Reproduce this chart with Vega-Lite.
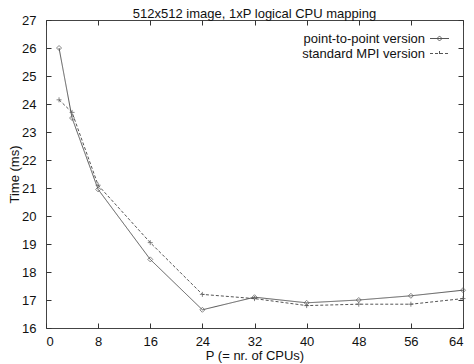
{
  "$schema": "https://vega.github.io/schema/vega-lite/v6.json",
  "autosize": "none",
  "width": 417,
  "height": 308,
  "padding": {"left": 46, "top": 20, "right": 11, "bottom": 36},
  "background": "white",
  "config": {
    "font": "Liberation Sans",
    "view": {"stroke": "#444", "strokeWidth": 1},
    "axis": {"grid": false, "domain": false, "ticks": true, "tickColor": "#333", "tickWidth": 1, "labelColor": "#111", "titleColor": "#111", "labelFontSize": 13, "titleFontSize": 13, "titleFontWeight": "normal", "tickSize": 5, "labelOverlap": false, "zindex": 1}
  },
  "title": {"text": "512x512 image, 1xP logical CPU mapping", "fontSize": 13, "fontWeight": "normal", "color": "#111", "offset": -7},
  "data": {"values": [
    {"P": 2, "series": "point-to-point version", "t": 26.0},
    {"P": 4, "series": "point-to-point version", "t": 23.5},
    {"P": 8, "series": "point-to-point version", "t": 20.95},
    {"P": 16, "series": "point-to-point version", "t": 18.45},
    {"P": 24, "series": "point-to-point version", "t": 16.65},
    {"P": 32, "series": "point-to-point version", "t": 17.1},
    {"P": 40, "series": "point-to-point version", "t": 16.9},
    {"P": 48, "series": "point-to-point version", "t": 17.0},
    {"P": 56, "series": "point-to-point version", "t": 17.15},
    {"P": 64, "series": "point-to-point version", "t": 17.35},
    {"P": 2, "series": "standard MPI version", "t": 24.15},
    {"P": 4, "series": "standard MPI version", "t": 23.7},
    {"P": 8, "series": "standard MPI version", "t": 21.1},
    {"P": 16, "series": "standard MPI version", "t": 19.05},
    {"P": 24, "series": "standard MPI version", "t": 17.2},
    {"P": 32, "series": "standard MPI version", "t": 17.05},
    {"P": 40, "series": "standard MPI version", "t": 16.8},
    {"P": 48, "series": "standard MPI version", "t": 16.85},
    {"P": 56, "series": "standard MPI version", "t": 16.85},
    {"P": 64, "series": "standard MPI version", "t": 17.05}
  ]},
  "resolve": {"axis": {"x": "independent", "y": "independent"}},
  "layer": [
    {
      "mark": {"type": "line", "color": "#555", "strokeWidth": 1},
      "encoding": {
        "x": {"field": "P", "type": "quantitative", "scale": {"domain": [0, 64], "nice": false}, "axis": {"offset": -5, "values": [0, 8, 16, 24, 32, 40, 48, 56, 64], "title": "P (= nr. of CPUs)", "labelPadding": 7, "titleY": 26}},
        "y": {"field": "t", "type": "quantitative", "scale": {"domain": [16, 27], "nice": false, "zero": false}, "axis": {"offset": -5, "values": [16, 17, 18, 19, 20, 21, 22, 23, 24, 25, 26, 27], "title": "Time (ms)", "labelPadding": 10, "titleX": -30}},
        "strokeDash": {"field": "series", "type": "nominal", "scale": {"domain": ["point-to-point version", "standard MPI version"], "range": [[1, 0], [3, 2]]},
          "legend": {"title": null, "orient": "top-right", "offset": 12, "labelFontSize": 13, "labelColor": "#111", "symbolStrokeColor": "#555", "symbolStrokeWidth": 1, "symbolSize": 100, "labelAlign": "right", "labelOffset": -21, "rowPadding": 1, "labelLimit": 300,
            "symbolType": "M-1,0H1",
            "encode": {"symbols": {"update": {"shape": {"signal": "datum.value === 'point-to-point version' ? 'M-1.9,0H1.9M0,-0.5L0.5,0L0,0.5L-0.5,0Z' : 'M-1.9,0H1.9M0,-0.5V0.5'"}, "fill": {"value": "transparent"}}}}}}
      }
    },
    {
      "mark": {"type": "point", "color": "#555", "strokeWidth": 1, "filled": false, "size": 25},
      "encoding": {
        "x": {"field": "P", "type": "quantitative", "axis": {"offset": -5, "orient": "top", "values": [0, 8, 16, 24, 32, 40, 48, 56, 64], "labels": false, "title": null}},
        "y": {"field": "t", "type": "quantitative", "axis": {"offset": -5, "orient": "right", "values": [16, 17, 18, 19, 20, 21, 22, 23, 24, 25, 26, 27], "labels": false, "title": null}},
        "shape": {"condition": {"test": "datum.series === 'standard MPI version'", "value": "M-1,0H1M0,-1V1"}, "value": "diamond"}
      }
    }
  ]
}
